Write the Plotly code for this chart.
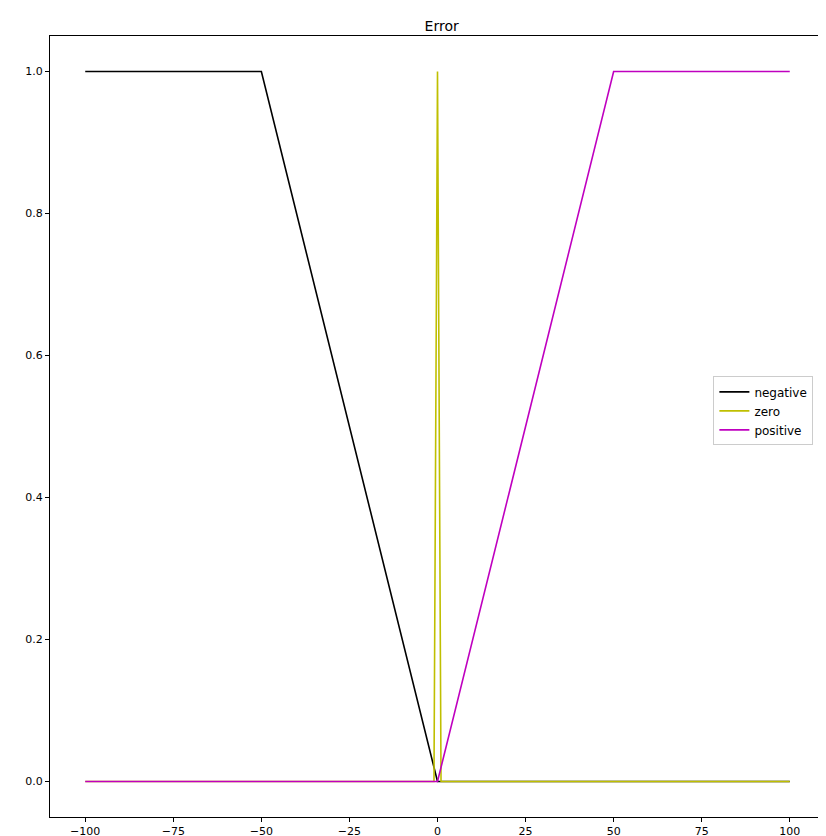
import plotly.graph_objects as go

neg_x = [-100, -50, 0, 100]
neg_y = [1, 1, 0, 0]
zero_x = [-100, -1, 0, 1, 100]
zero_y = [0, 0, 1, 0, 0]
pos_x = [-100, 0, 50, 100]
pos_y = [0, 0, 1, 1]

fig = go.Figure()
fig.add_trace(go.Scatter(x=neg_x, y=neg_y, mode="lines", name="negative", line=dict(color="black", width=1.6)))
fig.add_trace(go.Scatter(x=zero_x, y=zero_y, mode="lines", name="zero", line=dict(color="#bfbf00", width=1.6)))
fig.add_trace(go.Scatter(x=pos_x, y=pos_y, mode="lines", name="positive", line=dict(color="#bf00bf", width=1.6)))

ax = dict(showgrid=False, zeroline=False, showline=True, linecolor="black", mirror=True, automargin=False,
          ticks="outside", ticklen=4, tickcolor="black", tickfont=dict(size=11, color="black"))
fig.update_layout(
    width=826, height=836, plot_bgcolor="white", paper_bgcolor="white",
    font=dict(family="DejaVu Sans", color="black"),
    margin=dict(l=42, r=9, t=28, b=27),
    title=dict(text="Error", x=0.525, xanchor="center", y=0.978, yanchor="middle", font=dict(size=14)),
    xaxis=dict(range=[-110, 110], tickvals=[-100, -75, -50, -25, 0, 25, 50, 75, 100],
               ticktext=["\u2212100", "\u221275", "\u221250", "\u221225", "0", "25", "50", "75", "100"], **ax),
    yaxis=dict(range=[-0.05, 1.05], tickvals=[0, 0.2, 0.4, 0.6, 0.8, 1.0],
               ticktext=["0.0", "0.2", "0.4", "0.6", "0.8", "1.0"], **ax),
    legend=dict(x=0.985, y=0.52, xanchor="right", yanchor="middle", bordercolor="#cccccc", borderwidth=1,
                bgcolor="white", font=dict(size=12)),
)
fig.write_html("out.html")
